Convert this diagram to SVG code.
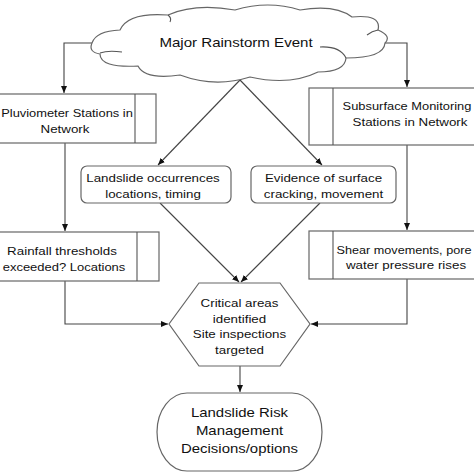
<svg xmlns="http://www.w3.org/2000/svg" width="474" height="474" viewBox="0 0 474 474">
<defs>
<marker id="ah" markerWidth="7" markerHeight="6" refX="7" refY="3" orient="auto" markerUnits="userSpaceOnUse">
<path d="M0,0 L7,3 L0,6 Z" fill="#111"/>
</marker>
<style>
.sh{fill:#fff;stroke:#666;stroke-width:1.2}
.ln{fill:none;stroke:#555;stroke-width:1.1}
.cn{fill:none;stroke:#444;stroke-width:1.1;marker-end:url(#ah)}
text{font-family:"Liberation Sans",Arial,sans-serif;font-size:11.6px;fill:#111;text-anchor:middle}
.big{font-size:13px}
</style>
</defs>
<rect width="474" height="474" fill="#fff"/>
<g id="connectors">
<path class="cn" d="M92,43 H64 V93"/>
<path class="cn" d="M385,43 H407 V87"/>
<path class="cn" d="M240,80 L158,165"/>
<path class="cn" d="M240,80 L322,165"/>
<path class="cn" d="M65,143 V231"/>
<path class="cn" d="M407,145 V230"/>
<path class="cn" d="M160,203 L239,282"/>
<path class="cn" d="M320,203 L241,282"/>
<path class="cn" d="M65,281 V324 H168"/>
<path class="cn" d="M407,279 V324 H311"/>
<path class="cn" d="M240,366 V392"/>
</g>
<g id="cloud">
<path class="sh" d="M92,43 Q96,31 120,30 Q128,12 168,15 Q195,3 235,10 Q268,0 300,10 Q335,4 352,17 Q382,14 378,30 Q392,36 385,43 Q384,58 346,58 Q345,72 318,72 Q290,86 250,77 Q215,88 180,75 Q145,80 138,66 Q100,68 100,54 Q88,52 92,43 Z"/>
<path class="ln" d="M100,53 Q108,50 122,52 M320,47 Q340,46 346,58 M367,35 Q372,31 378,30 M168,15 Q172,18 170,22"/>
<text class="big" transform="translate(236,47) scale(1.16,1)">Major Rainstorm Event</text>
</g>
<g id="pluviometer">
<rect class="sh" x="-6" y="94" width="162" height="49"/>
<line class="ln" x1="135" y1="94" x2="135" y2="143"/>
<text transform="translate(67,116.5) scale(1.11,1)">Pluviometer Stations in</text>
<text transform="translate(65,132.5) scale(1.15,1)">Network</text>
</g>
<g id="subsurface">
<rect class="sh" x="309" y="88" width="180" height="57"/>
<line class="ln" x1="333" y1="88" x2="333" y2="145"/>
<text transform="translate(407,109.5) scale(1.11,1)">Subsurface Monitoring</text>
<text transform="translate(410,126) scale(1.15,1)">Stations in Network</text>
</g>
<g id="landslide-occ">
<rect class="sh" x="81" y="166" width="150" height="37" rx="6"/>
<text transform="translate(153,182) scale(1.15,1)">Landslide occurrences</text>
<text transform="translate(153,197.5) scale(1.15,1)">locations, timing</text>
</g>
<g id="evidence">
<rect class="sh" x="251" y="166" width="145" height="37" rx="6"/>
<text transform="translate(323.5,182) scale(1.15,1)">Evidence of surface</text>
<text transform="translate(323.5,197.5) scale(1.15,1)">cracking, movement</text>
</g>
<g id="rainfall">
<rect class="sh" x="-6" y="232" width="165" height="49"/>
<line class="ln" x1="137" y1="232" x2="137" y2="281"/>
<text transform="translate(62,255) scale(1.15,1)">Rainfall thresholds</text>
<text transform="translate(64,270.5) scale(1.12,1)">exceeded? Locations</text>
</g>
<g id="shear">
<rect class="sh" x="309" y="231" width="180" height="48"/>
<line class="ln" x1="333" y1="231" x2="333" y2="279"/>
<text transform="translate(404,254) scale(1.09,1)">Shear movements, pore</text>
<text transform="translate(406,269) scale(1.15,1)">water pressure rises</text>
</g>
<g id="critical">
<polygon class="sh" points="199,283 280,283 310,324 280,366 199,366 169,324"/>
<text transform="translate(239.5,307) scale(1.15,1)">Critical areas</text>
<text transform="translate(239.5,322.5) scale(1.15,1)">identified</text>
<text transform="translate(239.5,338) scale(1.15,1)">Site inspections</text>
<text transform="translate(239.5,353.5) scale(1.15,1)">targeted</text>
</g>
<g id="management">
<rect class="sh" x="157" y="393" width="165" height="78" rx="30" ry="39"/>
<text class="big" transform="translate(239.5,416.5) scale(1.15,1)">Landslide Risk</text>
<text class="big" transform="translate(239.5,434.5) scale(1.15,1)">Management</text>
<text class="big" transform="translate(239.5,452.5) scale(1.15,1)">Decisions/options</text>
</g>
</svg>
